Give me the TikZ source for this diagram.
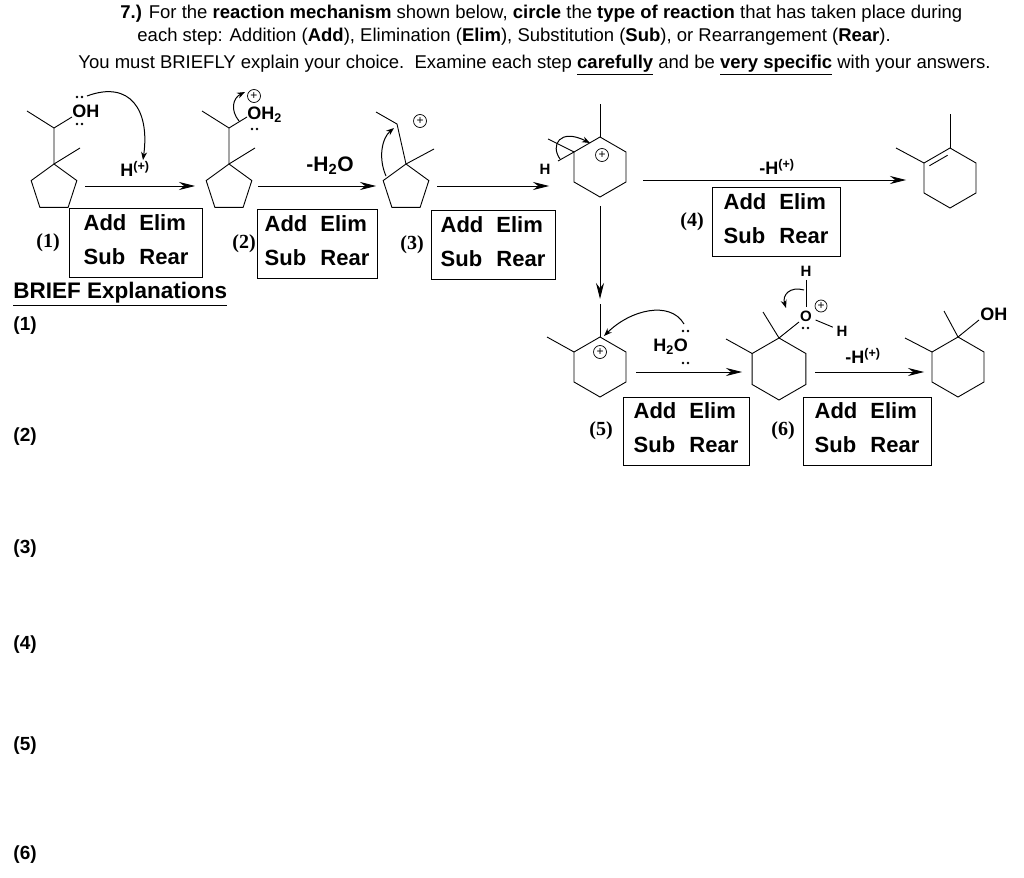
\documentclass[tikz,border=0pt]{standalone}
\usepackage{fontspec}
\setmainfont{Liberation Sans}
\newfontfamily\serifb{Liberation Serif}
\usetikzlibrary{arrows.meta,calc}
\begin{document}
\begin{tikzpicture}[x=1pt,y=-1pt,line width=0.9pt,
  rxn/.style={-{Stealth[length=16pt,width=8pt]}},
  curly/.style={-{Stealth[length=8pt,width=6pt]},line width=1pt},
  choice/.style={draw,line width=1pt,minimum width=124pt,minimum height=68pt,inner sep=0pt},
  num/.style={font=\fontsize{20}{20}\serifb\bfseries},
  lab/.style={font=\fontsize{18}{18}\selectfont\bfseries},
  txt/.style={font=\fontsize{18.5}{18}\selectfont,anchor=west,inner sep=0pt},
  pl/.style={draw,circle,inner sep=0pt,minimum size=13pt,font=\fontsize{12}{12}\selectfont,line width=0.7pt}]
\useasboundingbox (0,0) rectangle (1024,877);
\fill[white] (0,0) rectangle (1024,877);
% header
\node[txt] (h1) at (120,14) {\textbf{7.)} For the \textbf{reaction mechanism} shown below, \textbf{circle} the \textbf{type of reaction} that has taken place during};
\node[txt] (h2) at (137,37) {each step: Addition (\textbf{Add}), Elimination (\textbf{Elim}), Substitution (\textbf{Sub}), or Rearrangement (\textbf{Rear}).};
\node[txt] (h3) at (78,65) {You must BRIEFLY explain your choice.\ \ Examine each step \textbf{\underline{carefully}} and be \textbf{\underline{very specific}} with your answers.};
% explanations
\node[txt,font=\fontsize{22.5}{18}\selectfont\bfseries] (be) at (13,294) {\underline{BRIEF Explanations}};
\foreach \n/\yy in {1/326,2/437,3/549,4/645,5/746,6/855}
  \node[txt,font=\fontsize{19}{18}\selectfont\bfseries] (e\n) at (13,\yy) {(\n)};
% choice boxes
\newcommand{\choicetext}{\begin{tabular}{@{}l@{\hspace{13pt}}l@{}}Add&Elim\\[12pt]Sub&Rear\end{tabular}}
\foreach \n/\bx/\by/\nx/\bw in {1/136/243/48/133,2/317/244/244/120,3/493/245/412/124,4/776/222/692/128,5/686/431/601/126,6/867/431/783/128}{
  \node[choice,minimum width=\bw pt,font=\fontsize{22}{22}\selectfont\bfseries] (b\n) at (\bx,\by) {\choicetext};
  \node[num] (n\n) at (\nx,\by) {(\n)};
}
% ---------- molecule 1
\coordinate (m1) at (54,188);
\draw[shift={(m1)}] (-90:24) coordinate (m1t) -- (-18:24) -- (54:24) -- (126:24) -- (198:24) -- cycle;
\coordinate (m1ch) at (54,128);
\draw (m1t) -- (80,148);
\draw (m1t) -- (m1ch) -- (27,111);
\draw (m1ch) -- (72,117);
\node[lab,anchor=west,inner sep=0pt] (oh1) at (72,111) {OH};
\fill (77,97) circle (1.4) (82,97) circle (1.4) (77,124) circle (1.4) (82,124) circle (1.4);
\coordinate (m1hp) at (143,160);
\draw[curly] (87,96) .. controls (130,80) and (150,110) .. (m1hp);
\node[lab] (hp1) at (135,169) {H\textsuperscript{(+)}};
\coordinate (a1s) at (85,186); \coordinate (a1e) at (195,186);
\draw[rxn] (a1s) -- (a1e);
% ---------- molecule 2
\coordinate (m2) at (229,188);
\draw[shift={(m2)}] (-90:24) coordinate (m2t) -- (-18:24) -- (54:24) -- (126:24) -- (198:24) -- cycle;
\coordinate (m2ch) at (229,128);
\draw (m2t) -- (255,148);
\draw (m2t) -- (m2ch) -- (202,111);
\draw (m2ch) -- (247,117);
\node[lab,anchor=west,inner sep=0pt] (oh2) at (247,115) {OH\textsubscript{2}};
\fill (252,129) circle (1.4) (257,129) circle (1.4);
\node[pl] (p2) at (254,96) {+};
\draw[curly] (239,121) .. controls (230,110) and (233,98) .. (245,92);
\node[lab,font=\fontsize{21}{21}\selectfont\bfseries] (w2) at (330,166) {-H\textsubscript{2}O};
\coordinate (a2s) at (258,186); \coordinate (a2e) at (376,186);
\draw[rxn] (a2s) -- (a2e);
% ---------- molecule 3
\coordinate (m3) at (406,188);
\draw[shift={(m3)}] (-90:24) coordinate (m3t) -- (-18:24) -- (54:24) -- (126:24) -- (198:24) -- cycle;
\coordinate (m3c) at (397,124);
\draw (m3t) -- (434,149);
\draw (m3t) -- (m3c) -- (376,112);
\node[pl] (p3) at (420,121) {+};
\draw[curly] (386,176) .. controls (378,158) and (382,138) .. (394,128);
\coordinate (a3s) at (437,186); \coordinate (a3e) at (549,186);
\draw[rxn] (a3s) -- (a3e);
% ---------- molecule 4
\coordinate (m4) at (600,167);
\draw[shift={(m4)}] (-90:30) coordinate (m4t) -- (-30:30) -- (30:30) -- (90:30) coordinate (m4b) -- (150:30) -- (210:30) coordinate (m4l) -- cycle;
\draw (m4t) -- (600,104);
\draw (m4l) -- (548,139);
\draw (m4l) -- (558,161);
\node[lab,font=\fontsize{15}{15}\selectfont\bfseries] (h4) at (545,169) {H};
\node[pl] (p4) at (602,155) {+};
\draw[curly] (560,159) .. controls (550,145) and (560,128) .. (590,143);
\coordinate (a4s) at (643,180); \coordinate (a4e) at (906,180);
\draw[rxn] (a4s) -- (a4e);
\node[lab] (hp4) at (777,167) {-H\textsuperscript{(+)}};
% alkene
\coordinate (m8) at (950,178);
\draw[shift={(m8)}] (-90:30) coordinate (m8t) -- (-30:30) -- (30:30) -- (90:30) -- (150:30) -- (210:30) coordinate (m8l) -- cycle;
\draw (m8t) -- (950,114);
\draw (m8l) -- (896,148);
\draw ($(m8t)!0.15!(m8l)+(1.5,5)$) -- ($(m8t)!0.85!(m8l)+(1.5,5)$);
% down arrow
\coordinate (d1) at (600,206); \coordinate (d2) at (600,299);
\draw[rxn] (d1) -- (d2);
% ---------- molecule 5
\coordinate (m5) at (600,367);
\draw[shift={(m5)}] (-90:30) coordinate (m5t) -- (-30:30) -- (30:30) -- (90:30) -- (150:30) -- (210:30) coordinate (m5l) -- cycle;
\draw (m5t) -- (600,304);
\draw (m5l) -- (547,337);
\node[pl] (p5) at (600,352) {+};
\node[lab,anchor=west,inner sep=0pt] (w5) at (653,347) {H\textsubscript{2}O};
\fill (683,331) circle (1.4) (688,331) circle (1.4) (683,363) circle (1.4) (688,363) circle (1.4);
\draw[curly] (684,324) .. controls (670,300) and (630,310) .. (604,336);
\coordinate (a5s) at (636,372); \coordinate (a5e) at (742,372);
\draw[rxn] (a5s) -- (a5e);
% ---------- molecule 6
\coordinate (m6) at (779,369);
\draw[shift={(m6)}] (-90:31) coordinate (m6t) -- (-30:31) -- (30:31) -- (90:31) -- (150:31) -- (210:31) coordinate (m6l) -- cycle;
\draw (m6t) -- (763,312);
\draw (m6l) -- (726,339);
\draw (m6t) -- (799,322);
\node[lab,font=\fontsize{15}{15}\selectfont\bfseries] (o6) at (806,316) {O};
\node[pl,minimum size=12pt] (p6) at (821,306) {+};
\node[lab,font=\fontsize{15}{15}\selectfont\bfseries] (h6a) at (806,271) {H};
\node[lab,font=\fontsize{15}{15}\selectfont\bfseries] (h6b) at (842,331) {H};
\draw (h6a) -- (o6);
\draw (o6) -- (h6b);
\fill (803,328) circle (1.3) (808,328) circle (1.3);
\draw[curly] (804,290) .. controls (790,286) and (782,295) .. (786,308);
\coordinate (a6s) at (815,372); \coordinate (a6e) at (924,372);
\draw[rxn] (a6s) -- (a6e);
\node[lab] (hp6) at (863,356) {-H\textsuperscript{(+)}};
% ---------- molecule 7
\coordinate (m7) at (958,367);
\draw[shift={(m7)}] (-90:30) coordinate (m7t) -- (-30:30) -- (30:30) -- (90:30) -- (150:30) -- (210:30) coordinate (m7l) -- cycle;
\draw (m7t) -- (944,311);
\draw (m7t) -- (979,320);
\node[lab,anchor=west,inner sep=0pt] (oh7) at (980,314) {OH};
\draw (m7l) -- (905,338);
\end{tikzpicture}
\end{document}
